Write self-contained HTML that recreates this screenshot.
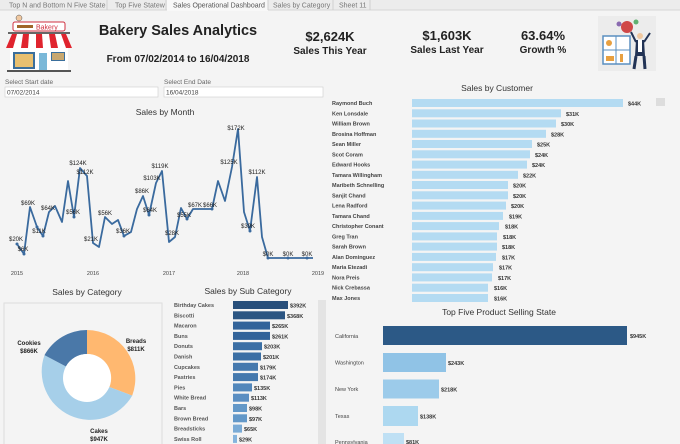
<!DOCTYPE html>
<html><head><meta charset="utf-8">
<style>
html,body{margin:0;padding:0;background:#f4f4f4;}
svg{display:block;font-family:"Liberation Sans",sans-serif;}
</style></head><body>
<svg width="680" height="444" viewBox="0 0 680 444" xmlns="http://www.w3.org/2000/svg">
<rect width="680" height="444" fill="#f4f4f4"/>
<!-- tabs -->
<rect x="0" y="0" width="680" height="10" fill="#ececec"/>
<line x1="0" y1="10" x2="680" y2="10" stroke="#d6d6d6"/>
<g font-size="7" fill="#777">
<text x="9" y="7.5">Top N and Bottom N Five State</text>
<line x1="107" y1="0" x2="107" y2="10" stroke="#d0d0d0"/>
<text x="115" y="7.5">Top Five Statew</text>
<line x1="166" y1="0" x2="166" y2="10" stroke="#d0d0d0"/>
<rect x="167" y="0" width="101" height="11" fill="#f8f8f8"/>
<text x="173" y="7.5" fill="#555">Sales Operational Dashboard</text>
<line x1="268" y1="0" x2="268" y2="10" stroke="#d0d0d0"/>
<text x="273" y="7.5">Sales by Category</text>
<line x1="333" y1="0" x2="333" y2="10" stroke="#d0d0d0"/>
<text x="339" y="7.5">Sheet 11</text>
<line x1="370" y1="0" x2="370" y2="10" stroke="#d0d0d0"/>
</g>
<!-- bakery logo -->
<g>
<circle cx="19" cy="18" r="3" fill="#f0c8a0" stroke="#555" stroke-width="0.5"/>
<rect x="13" y="22" width="52" height="9" rx="2" fill="#fff" stroke="#d03040" stroke-width="1"/>
<rect x="17" y="25" width="16" height="3" fill="#a0662a"/>
<text x="36" y="29.5" font-size="7" fill="#d03040">Bakery</text>
<rect x="8" y="32" width="62" height="2" fill="#666"/>
<path d="M6,48 L12,34 L66,34 L72,48 Z" fill="#fff"/>
<g fill="#e0242e">
<path d="M6,48 L12,34 L17,34 L13,48 Z"/><path d="M21,48 L23,34 L29,34 L28,48 Z"/><path d="M36,48 L36,34 L42,34 L43,48 Z"/><path d="M51,48 L49,34 L55,34 L58,48 Z"/><path d="M66,48 L61,34 L66,34 L72,48 Z"/>
</g>
<rect x="10" y="48" width="58" height="23" fill="#fff"/>
<rect x="13" y="52" width="22" height="17" fill="#3b6f9c"/><rect x="15" y="54" width="18" height="13" fill="#e8c070"/>
<rect x="39" y="53" width="8" height="17" fill="#7ab8d8"/>
<rect x="51" y="52" width="14" height="9" fill="#3b6f9c"/><rect x="52" y="53" width="12" height="7" fill="#c8a870"/>
<rect x="7" y="70" width="64" height="2" fill="#555"/>
</g>
<!-- title -->
<text x="178" y="35" font-size="14.5" font-weight="bold" fill="#222" text-anchor="middle">Bakery Sales Analytics</text>
<text x="178" y="62" font-size="10" font-weight="bold" fill="#222" text-anchor="middle">From 07/02/2014 to 16/04/2018</text>
<!-- KPIs -->
<g font-weight="bold" fill="#222" text-anchor="middle">
<text x="330" y="41" font-size="13">$2,624K</text>
<text x="330" y="54" font-size="10">Sales This Year</text>
<text x="447" y="40" font-size="13">$1,603K</text>
<text x="447" y="53" font-size="10">Sales Last Year</text>
<text x="543" y="40" font-size="13">63.64%</text>
<text x="543" y="53" font-size="10">Growth %</text>
</g>
<!-- analyst image -->
<rect x="598" y="16" width="58" height="55" fill="#ececec"/>
<rect x="603" y="36" width="27" height="28" fill="#fff" stroke="#5a8fc0" stroke-width="1.5"/>
<line x1="616" y1="36" x2="616" y2="64" stroke="#5a8fc0"/><line x1="603" y1="50" x2="630" y2="50" stroke="#5a8fc0"/>
<circle cx="609" cy="43" r="3" fill="#e8a040"/><rect x="606" y="56" width="8" height="5" fill="#e8a040"/><rect x="620" y="54" width="3" height="8" fill="#e8a040"/>
<circle cx="627" cy="27" r="6" fill="#d04848"/><circle cx="619" cy="24" r="2.5" fill="#8a6ab0"/><circle cx="636" cy="22" r="2.5" fill="#60b070"/>
<circle cx="640" cy="36" r="3" fill="#f0c8a0"/>
<path d="M636,40 L644,40 L645,56 L635,56 Z" fill="#223355"/><rect x="638" y="40" width="4" height="12" fill="#fff"/>
<path d="M636,56 L634,69 M644,56 L645,69" stroke="#223355" stroke-width="3"/>
<path d="M636,42 L631,32 M644,42 L650,33" stroke="#223355" stroke-width="2"/>
<!-- date filters -->
<g font-size="6.5" fill="#666">
<text x="5" y="84">Select Start date</text>
<text x="164" y="84">Select End Date</text>
</g>
<rect x="5" y="87" width="153" height="10" fill="#fff" stroke="#ccc" stroke-width="0.6"/>
<rect x="164" y="87" width="159" height="10" fill="#fff" stroke="#ccc" stroke-width="0.6"/>
<g font-size="6.5" fill="#444">
<text x="7" y="94.5">07/02/2014</text>
<text x="166" y="94.5">16/04/2018</text>
</g>
<!-- Sales by Month -->
<text x="165" y="115" font-size="8.5" fill="#333" text-anchor="middle">Sales by Month</text>
<polyline fill="none" stroke="#3a6a9e" stroke-width="1.8" stroke-linejoin="round" points="17,244 24,254 30,207 37,227 43,236 49,212 55,206 62,222 68,181 74,217 80,168 87,176 93,243 99,247 105,217 112,224 118,220 124,236 131,232 137,209 143,196 149,215 156,183 162,171 169,242 175,237 181,208 187,219 193,209 212,209 218,181 225,201 232,167 238,129 244,212 250,231 257,177 262,237 268,258 313,258"/>
<g fill="#3a6a9e">
<circle cx="17" cy="244" r="1.5"/><circle cx="24" cy="254" r="1.5"/><circle cx="37" cy="227" r="1.5"/><circle cx="43" cy="236" r="1.5"/><circle cx="74" cy="217" r="1.5"/><circle cx="124" cy="236" r="1.5"/><circle cx="149" cy="215" r="1.5"/><circle cx="187" cy="219" r="1.5"/><circle cx="212" cy="209" r="1.5"/><circle cx="250" cy="231" r="1.5"/><circle cx="268" cy="258" r="1.5"/><circle cx="288" cy="258" r="1.5"/><circle cx="307" cy="258" r="1.5"/>
</g>
<g font-size="6" fill="#222" text-anchor="middle">
<text x="16" y="241">$20K</text><text x="23" y="251">$6K</text><text x="28" y="205">$69K</text><text x="39" y="233">$11K</text>
<text x="48" y="210">$64K</text><text x="73" y="214">$56K</text><text x="78" y="165">$124K</text><text x="85" y="174">$112K</text>
<text x="91" y="241">$21K</text><text x="105" y="215">$56K</text><text x="123" y="233">$36K</text><text x="142" y="193">$86K</text>
<text x="150" y="212">$64K</text><text x="152" y="180">$103K</text><text x="160" y="168">$119K</text><text x="172" y="235">$28K</text>
<text x="184" y="217">$55K</text><text x="195" y="207">$67K</text><text x="210" y="207">$66K</text><text x="229" y="164">$125K</text>
<text x="236" y="130">$172K</text><text x="257" y="174">$112K</text><text x="248" y="228">$39K</text><text x="268" y="256">$0K</text>
<text x="288" y="256">$0K</text><text x="307" y="256">$0K</text>
</g>
<g font-size="5.5" fill="#444" text-anchor="middle">
<text x="17" y="275">2015</text><text x="93" y="275">2016</text><text x="169" y="275">2017</text><text x="243" y="275">2018</text><text x="318" y="275">2019</text>
</g>
<!-- Sales by Customer -->
<text x="497" y="91" font-size="8.5" fill="#333" text-anchor="middle">Sales by Customer</text>
<rect x="656" y="98" width="9" height="8" fill="#ddd"/>
<g font-size="5.5" fill="#444" font-weight="bold">
<text x="332" y="105">Raymond Buch</text><text x="332" y="115.3">Ken Lonsdale</text><text x="332" y="125.5">William Brown</text><text x="332" y="135.8">Brosina Hoffman</text>
<text x="332" y="146">Sean Miller</text><text x="332" y="156.3">Scot Coram</text><text x="332" y="166.6">Edward Hooks</text><text x="332" y="176.8">Tamara Willingham</text>
<text x="332" y="187">Maribeth Schnelling</text><text x="332" y="197.3">Sanjit Chand</text><text x="332" y="207.6">Lena Radford</text><text x="332" y="217.9">Tamara Chand</text>
<text x="332" y="228.1">Christopher Conant</text><text x="332" y="238.4">Greg Tran</text><text x="332" y="248.6">Sarah Brown</text><text x="332" y="258.9">Alan Dominguez</text>
<text x="332" y="269.2">Maria Etezadi</text><text x="332" y="279.4">Nora Preis</text><text x="332" y="289.7">Nick Crebassa</text><text x="332" y="300">Max Jones</text>
</g>
<g fill="#b4dbf2">
<rect x="412" y="99" width="211" height="8"/><rect x="412" y="109.3" width="149" height="8"/><rect x="412" y="119.5" width="144" height="8"/><rect x="412" y="129.8" width="134" height="8"/>
<rect x="412" y="140" width="120" height="8"/><rect x="412" y="150.3" width="118" height="8"/><rect x="412" y="160.6" width="115" height="8"/><rect x="412" y="170.8" width="106" height="8"/>
<rect x="412" y="181" width="96" height="8"/><rect x="412" y="191.3" width="96" height="8"/><rect x="412" y="201.6" width="94" height="8"/><rect x="412" y="211.9" width="91" height="8"/>
<rect x="412" y="222.1" width="87" height="8"/><rect x="412" y="232.4" width="85" height="8"/><rect x="412" y="242.6" width="85" height="8"/><rect x="412" y="252.9" width="84" height="8"/>
<rect x="412" y="263.2" width="81" height="8"/><rect x="412" y="273.4" width="80" height="8"/><rect x="412" y="283.7" width="76" height="8"/><rect x="412" y="294" width="76" height="8"/>
</g>
<g font-size="5.5" fill="#333" font-weight="bold">
<text x="628" y="105.5">$44K</text><text x="566" y="115.8">$31K</text><text x="561" y="126">$30K</text><text x="551" y="136.3">$28K</text>
<text x="537" y="146.5">$25K</text><text x="535" y="156.8">$24K</text><text x="532" y="167.1">$24K</text><text x="523" y="177.3">$22K</text>
<text x="513" y="187.5">$20K</text><text x="513" y="197.8">$20K</text><text x="511" y="208.1">$20K</text><text x="509" y="218.4">$19K</text>
<text x="505" y="228.6">$18K</text><text x="503" y="238.9">$18K</text><text x="502" y="249.1">$18K</text><text x="502" y="259.4">$17K</text>
<text x="499" y="269.7">$17K</text><text x="498" y="279.9">$17K</text><text x="494" y="290.2">$16K</text><text x="494" y="300.5">$16K</text>
</g>
<!-- Sales by Category -->
<text x="87" y="295" font-size="8.5" fill="#333" text-anchor="middle">Sales by Category</text>
<rect x="4" y="303" width="158" height="145" fill="none" stroke="#ddd" stroke-width="1"/>
<path d="M87,330 A48.5,48.5 0 0 1 132.2,395.6 L109.4,387 A24,24 0 0 0 87,354 Z" fill="#ffb870"/>
<path d="M132.2,395.6 A48.5,48.5 0 0 1 44.5,355.1 L66,366.5 A24,24 0 0 0 109.4,387 Z" fill="#a6cfe9"/>
<path d="M44.5,355.1 A48.5,48.5 0 0 1 87,330 L87,354 A24,24 0 0 0 66,366.5 Z" fill="#4a78a8"/>
<circle cx="87" cy="378" r="24" fill="#fff"/>
<g font-size="6" fill="#222" font-weight="bold" text-anchor="middle">
<text x="29" y="345">Cookies</text><text x="29" y="353">$866K</text>
<text x="136" y="343">Breads</text><text x="136" y="351">$811K</text>
<text x="99" y="433">Cakes</text><text x="99" y="441">$947K</text>
</g>
<!-- Sales by Sub Category -->
<text x="248" y="294" font-size="8.5" fill="#333" text-anchor="middle">Sales by Sub Category</text>
<rect x="318" y="300" width="8" height="144" fill="#e4e4e4"/>
<g font-size="5.5" fill="#555" font-weight="bold">
<text x="174" y="307">Birthday Cakes</text><text x="174" y="317.3">Biscotti</text><text x="174" y="327.6">Macaron</text><text x="174" y="337.9">Buns</text>
<text x="174" y="348.2">Donuts</text><text x="174" y="358.5">Danish</text><text x="174" y="368.8">Cupcakes</text><text x="174" y="379.1">Pastries</text>
<text x="174" y="389.4">Pies</text><text x="174" y="399.7">White Bread</text><text x="174" y="410">Bars</text><text x="174" y="420.3">Brown Bread</text>
<text x="174" y="430.6">Breadsticks</text><text x="174" y="440.9">Swiss Roll</text>
</g>
<g>
<rect x="233" y="301" width="55" height="8" fill="#284f7b"/><rect x="233" y="311.3" width="52" height="8" fill="#2b5582"/>
<rect x="233" y="321.6" width="37" height="8" fill="#33649a"/><rect x="233" y="331.9" width="37" height="8" fill="#33649a"/>
<rect x="233" y="342.2" width="29" height="8" fill="#3b6fa5"/><rect x="233" y="352.5" width="28" height="8" fill="#3b6fa5"/>
<rect x="233" y="362.8" width="25" height="8" fill="#4579ae"/><rect x="233" y="373.1" width="25" height="8" fill="#4579ae"/>
<rect x="233" y="383.4" width="19" height="8" fill="#5287bb"/><rect x="233" y="393.7" width="16" height="8" fill="#5a8ec2"/>
<rect x="233" y="404" width="14" height="8" fill="#6398c8"/><rect x="233" y="414.3" width="14" height="8" fill="#6398c8"/>
<rect x="233" y="424.6" width="9" height="8" fill="#7aabd6"/><rect x="233" y="434.9" width="4" height="8" fill="#85b4dd"/>
</g>
<g font-size="5.5" fill="#333" font-weight="bold">
<text x="290" y="307.5">$392K</text><text x="287" y="317.8">$368K</text><text x="272" y="328.1">$265K</text><text x="272" y="338.4">$261K</text>
<text x="264" y="348.7">$203K</text><text x="263" y="359">$201K</text><text x="260" y="369.3">$179K</text><text x="260" y="379.6">$174K</text>
<text x="254" y="389.9">$135K</text><text x="251" y="400.2">$113K</text><text x="249" y="410.5">$98K</text><text x="249" y="420.8">$97K</text>
<text x="244" y="431.1">$65K</text><text x="239" y="441.4">$29K</text>
</g>
<!-- Top Five Product Selling State -->
<text x="499" y="315" font-size="8.5" fill="#333" text-anchor="middle">Top Five Product Selling State</text>
<g font-size="5.5" fill="#444">
<text x="335" y="338">California</text><text x="335" y="364.5">Washington</text><text x="335" y="391">New York</text><text x="335" y="418">Texas</text><text x="335" y="444">Pennsylvania</text>
</g>
<rect x="383" y="326" width="244" height="19" fill="#2c5986"/>
<rect x="383" y="353" width="63" height="19" fill="#90c3e6"/>
<rect x="383" y="379.5" width="56" height="19" fill="#9ccbea"/>
<rect x="383" y="406" width="35" height="20" fill="#add8f0"/>
<rect x="383" y="433" width="21" height="12" fill="#bfe0f4"/>
<g font-size="5.5" fill="#333" font-weight="bold">
<text x="630" y="338">$945K</text><text x="448" y="365">$243K</text><text x="441" y="391.5">$218K</text><text x="420" y="418.5">$138K</text><text x="406" y="444">$81K</text>
</g>
</svg>
</body></html>
